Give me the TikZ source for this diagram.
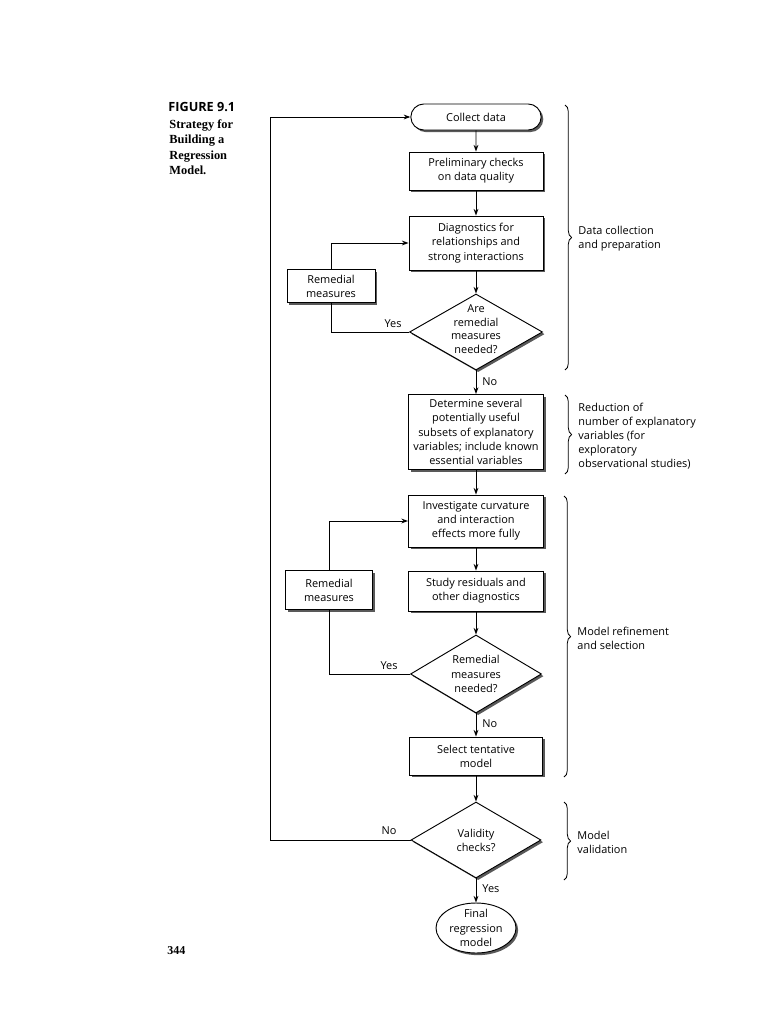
\documentclass[tikz,border=0pt]{standalone}
\usepackage{fontspec}
\setmainfont{Liberation Serif}
\newfontfamily\dsans{Open Sans}
\usetikzlibrary{shapes.geometric,shapes.misc,arrows.meta,decorations.pathreplacing,shadows}
\begin{document}
\begin{tikzpicture}[x=0.75pt,y=-0.75pt,
  font=\dsans\fontsize{8.2}{10.6}\selectfont,
  line width=0.7pt,
  arr/.style={-{Stealth[length=5pt,width=3.6pt]}},
  shad/.style={drop shadow={shadow xshift=1.6pt,shadow yshift=-1.6pt,fill=black!65,opacity=1}},
  box/.style={draw,fill=white,shad,align=center,inner sep=1pt},
  dia/.style={draw,fill=white,diamond,shad,inner sep=0pt},
  ell/.style={draw,fill=white,ellipse,shad,inner sep=0pt},
  dtext/.style={align=center,inner sep=0pt},
  lab/.style={inner sep=0pt,anchor=base west},
  labr/.style={inner sep=0pt,anchor=base},
  brc/.style={decorate,decoration={brace,amplitude=5pt},line width=0.6pt},
  note/.style={align=left,anchor=west,inner sep=0pt}
]
\useasboundingbox[fill=white] (0,0) rectangle (768,1024);

% caption
\node[anchor=base west,inner sep=0pt,font=\dsans\bfseries\fontsize{9.5}{11}\selectfont] (figno) at (168,112) {FIGURE 9.1};
\node[anchor=north west,align=left,inner sep=0pt,font=\bfseries\fontsize{9.3}{11.6}\selectfont] (cap) at (169,119) {Strategy for\\Building a\\Regression\\Model.};
\node[anchor=base west,inner sep=0pt,font=\bfseries\fontsize{9}{10}\selectfont] (page) at (167,954) {344};

% main column
\node[box,rounded rectangle,minimum width=133*0.75pt,minimum height=26*0.75pt] (collect) at (476,117) {Collect data};
\node[box,minimum width=134*0.75pt,minimum height=38*0.75pt] (prelim) at (476,171) {Preliminary checks\\on data quality};
\node[box,minimum width=134*0.75pt,minimum height=54*0.75pt] (diag) at (476,243) {Diagnostics for\\relationships and\\strong interactions};
\node[box,minimum width=88*0.75pt,minimum height=33*0.75pt] (rem1) at (331,286) {Remedial\\measures};
\node[dia,minimum width=133*0.75pt,minimum height=76*0.75pt] (d1) at (476,332) {};
\node[dtext,font=\dsans\fontsize{8.2}{10.2}\selectfont] (d1t) at (476,329) {Are\\remedial\\measures\\needed?};
\node[box,minimum width=135*0.75pt,minimum height=75*0.75pt] (det) at (476,432) {Determine several\\potentially useful\\subsets of explanatory\\variables; include known\\essential variables};
\node[box,minimum width=135*0.75pt,minimum height=52*0.75pt] (inv) at (476,521) {Investigate curvature\\and interaction\\effects more fully};
\node[box,minimum width=87*0.75pt,minimum height=39*0.75pt] (rem2) at (329,590) {Remedial\\measures};
\node[box,minimum width=135*0.75pt,minimum height=40*0.75pt] (study) at (476,591) {Study residuals and\\other diagnostics};
\node[dia,minimum width=131*0.75pt,minimum height=78*0.75pt] (d2) at (476,674) {};
\node[dtext] (d2t) at (d2.center) {Remedial\\measures\\needed?};
\node[box,minimum width=133*0.75pt,minimum height=38*0.75pt] (sel) at (476,756) {Select tentative\\model};
\node[dia,minimum width=130*0.75pt,minimum height=76*0.75pt] (d3) at (476,840) {};
\node[dtext] (d3t) at (d3.center) {Validity\\checks?};
\node[ell,minimum width=80*0.75pt,minimum height=50*0.75pt] (fin) at (476,928) {};
\node[dtext] (fint) at (fin.center) {Final\\regression\\model};

% main connectors
\draw[arr] (collect) -- (prelim);
\draw[arr] (prelim) -- (diag);
\draw[arr] (diag) -- (d1);
\draw[arr] (d1) -- (det);
\draw[arr] (det) -- (inv);
\draw[arr] (inv) -- (study);
\draw[arr] (study) -- (d2);
\draw[arr] (d2) -- (sel);
\draw[arr] (sel) -- (d3);
\draw[arr] (d3) -- (fin);

% feedback loops
\draw (d1.west) -| (rem1.south);
\draw[arr] (rem1.north) |- (diag.west);
\draw (d2.west) -| (rem2.south);
\draw[arr] (rem2.north) |- (inv.west);
\coordinate (lx) at (270,840);
\draw[arr] (d3.west) -- (lx) |- (collect.west);

% connector labels
\node[labr] (yes1) at (393,327) {Yes};
\node[lab] (no1) at (482,385) {No};
\node[labr] (yes2) at (389,669) {Yes};
\node[lab] (no2) at (482,727) {No};
\node[labr] (no3) at (389,834) {No};
\node[lab] (yes3) at (482,892) {Yes};

% braces
\draw[brc] (565,105) -- (565,370);
\node[note] (n1) at (578,239) {Data collection\\and preparation};
\draw[brc] (565,395) -- (565,474);
\node[note] (n2) at (578,436) {Reduction of\\number of explanatory\\variables (for\\exploratory\\observational studies)};
\draw[brc] (564,496) -- (564,777);
\node[note] (n3) at (577,638) {Model refinement\\and selection};
\draw[brc] (564,802) -- (564,880);
\node[note] (n4) at (577,842) {Model\\validation};
\end{tikzpicture}
\end{document}
